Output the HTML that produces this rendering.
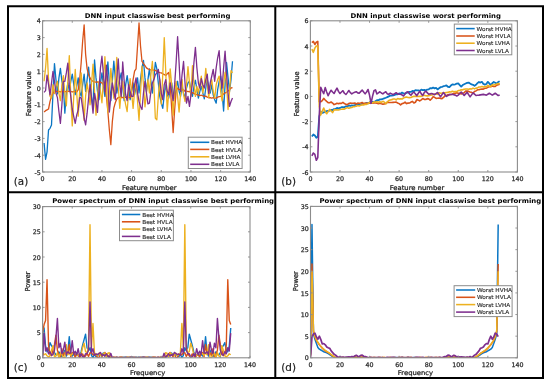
<!DOCTYPE html><html><head><meta charset="utf-8"><style>html,body{margin:0;padding:0;background:#fff;overflow:hidden}svg{display:block;filter:blur(0.3px)}</style></head><body><svg width="550" height="385" viewBox="0 0 550 385" font-family="DejaVu Sans, Liberation Sans, sans-serif">
<rect width="550" height="385" fill="#fff"/>
<clipPath id="cpa"><rect x="42.6" y="20.8" width="207.70000000000002" height="151.2"/></clipPath>
<g clip-path="url(#cpa)" fill="none" stroke-linejoin="round" stroke-linecap="butt">
<polyline points="44.08,142.94 45.57,159.40 47.05,151.84 48.53,130.00 50.02,128.32 51.50,124.96 52.98,93.04 54.47,63.64 55.95,79.60 57.44,93.88 58.92,77.92 60.40,68.34 61.89,81.28 63.37,86.32 64.85,113.20 66.34,93.04 67.82,82.96 69.30,90.69 70.79,81.28 72.27,74.06 73.76,84.64 75.24,94.72 76.72,86.32 78.21,77.92 79.69,91.36 81.17,96.40 82.66,84.64 84.14,74.06 85.62,91.36 87.11,79.60 88.59,67.17 90.07,84.64 91.56,98.08 93.04,107.82 94.53,59.94 96.01,77.92 97.49,91.36 98.98,99.59 100.46,82.96 101.94,72.88 103.43,86.32 104.91,96.40 106.39,77.92 107.88,61.96 109.36,82.96 110.84,100.60 112.33,81.28 113.81,61.12 115.30,77.92 116.78,93.04 118.26,84.64 119.75,79.60 121.23,72.88 122.71,86.32 124.20,100.60 125.68,84.64 127.16,75.57 128.65,86.32 130.13,99.76 131.61,91.36 133.10,82.96 134.58,94.72 136.06,86.32 137.55,77.92 139.03,93.04 140.52,79.60 142.00,67.84 143.48,60.45 144.97,77.92 146.45,91.36 147.93,79.60 149.42,68.85 150.90,81.28 152.38,93.04 153.87,77.92 155.35,62.46 156.84,68.85 158.32,82.96 159.80,96.40 161.29,103.12 162.77,108.33 164.25,94.72 165.74,84.64 167.22,94.72 168.70,98.08 170.19,89.68 171.67,82.96 173.15,93.04 174.64,98.08 176.12,88.00 177.60,81.28 179.09,91.36 180.57,96.40 182.06,86.32 183.54,93.04 185.02,98.08 186.51,88.00 187.99,82.96 189.47,81.28 190.96,91.36 192.44,96.40 193.92,86.32 195.41,80.27 196.89,89.68 198.38,98.08 199.86,91.36 201.34,86.32 202.83,93.04 204.31,98.92 205.79,88.00 207.28,79.26 208.76,86.32 210.24,93.04 211.73,84.64 213.21,94.72 214.69,99.76 216.18,103.12 217.66,89.68 219.15,81.28 220.63,76.07 222.11,93.04 223.60,111.02 225.08,84.64 226.56,62.46 228.05,77.92 229.53,91.36 231.01,79.60 232.50,61.29" stroke="#0a76c4" stroke-width="1.3"/>
<polyline points="44.08,112.02 45.57,110.68 47.05,109.84 48.53,109.00 50.02,101.44 51.50,96.40 52.98,93.04 54.47,91.36 55.95,91.02 57.44,91.70 58.92,91.36 60.40,92.03 61.89,91.19 63.37,91.53 64.85,91.36 66.34,91.86 67.82,91.02 69.30,91.70 70.79,91.36 72.27,92.03 73.76,91.36 75.24,91.70 76.72,92.03 78.21,89.68 79.69,79.60 81.17,62.80 82.66,40.96 84.14,24.83 85.62,54.40 87.11,68.85 88.59,74.56 90.07,77.92 91.56,80.44 93.04,81.28 94.53,81.78 96.01,82.12 97.49,81.95 98.98,82.29 100.46,82.12 101.94,82.96 103.43,84.64 104.91,88.00 106.39,96.40 107.88,111.52 109.36,130.00 110.84,144.62 112.33,121.60 113.81,108.16 115.30,102.78 116.78,98.92 118.26,97.58 119.75,97.24 121.23,97.74 122.71,97.41 124.20,97.58 125.68,97.24 127.16,97.74 128.65,97.41 130.13,97.58 131.61,91.36 133.10,79.60 134.58,71.20 136.06,68.85 137.55,46.00 139.03,22.98 140.52,46.00 142.00,61.46 143.48,63.64 144.97,65.66 146.45,67.84 147.93,68.85 149.42,69.52 150.90,69.86 152.38,69.86 153.87,70.19 155.35,70.36 156.84,71.20 158.32,72.04 159.80,72.54 161.29,72.88 162.77,73.72 164.25,74.56 165.74,75.57 167.22,73.72 168.70,72.54 170.19,84.64 171.67,108.16 173.15,132.52 174.64,109.84 176.12,91.36 177.60,88.00 179.09,89.68 180.57,89.34 182.06,90.02 183.54,89.68 185.02,91.36 186.51,91.02 187.99,91.70 189.47,91.36 190.96,93.04 192.44,92.70 193.92,93.38 195.41,94.38 196.89,94.72 198.38,95.06 199.86,95.56 201.34,95.22 202.83,95.90 204.31,96.40 205.79,96.06 207.28,97.24 208.76,97.74 210.24,97.58 211.73,98.08 213.21,97.74 214.69,98.08 216.18,98.08 217.66,97.24 219.15,96.74 220.63,96.40 222.11,95.56 223.60,93.88 225.08,93.04 226.56,92.20 228.05,91.02 229.53,89.68 231.01,88.00 232.50,87.66" stroke="#D95319" stroke-width="1.3"/>
<polyline points="44.08,81.28 45.57,67.84 47.05,48.35 48.53,79.60 50.02,96.40 51.50,98.08 52.98,84.64 54.47,93.54 55.95,86.32 57.44,81.28 58.92,93.04 60.40,100.60 61.89,84.64 63.37,75.57 64.85,93.04 66.34,105.81 67.82,81.28 69.30,55.58 70.79,96.40 72.27,125.97 73.76,96.40 75.24,69.52 76.72,93.04 78.21,116.22 79.69,91.36 81.17,72.88 82.66,96.40 84.14,120.42 85.62,96.40 87.11,82.96 88.59,93.04 90.07,104.80 91.56,82.96 93.04,64.14 94.53,91.36 96.01,115.22 97.49,96.40 98.98,81.28 100.46,91.36 101.94,102.78 103.43,79.60 104.91,56.75 106.39,84.64 107.88,112.53 109.36,91.36 110.84,68.34 112.33,84.64 113.81,98.08 115.30,79.60 116.78,57.42 118.26,86.32 119.75,108.33 121.23,91.36 122.71,81.28 124.20,96.40 125.68,104.80 127.16,111.52 128.65,91.36 130.13,78.59 131.61,93.04 133.10,108.33 134.58,91.36 136.06,81.28 137.55,101.44 139.03,120.42 140.52,93.04 142.00,66.16 143.48,84.64 144.97,106.82 146.45,93.04 147.93,79.60 149.42,93.04 150.90,74.56 152.38,61.46 153.87,84.64 155.35,118.24 156.84,119.75 158.32,96.40 159.80,79.60 161.29,104.30 162.77,74.56 164.25,37.60 165.74,71.20 167.22,111.52 168.70,93.04 170.19,68.85 171.67,84.64 173.15,115.22 174.64,93.04 176.12,81.28 177.60,96.40 179.09,112.02 180.57,93.04 182.06,79.60 183.54,94.72 185.02,101.44 186.51,84.64 187.99,66.66 189.47,82.96 190.96,96.40 192.44,65.66 193.92,82.96 195.41,96.40 196.89,86.32 198.38,93.04 199.86,82.96 201.34,76.24 202.83,93.04 204.31,84.64 205.79,68.34 207.28,84.64 208.76,97.58 210.24,86.32 211.73,79.60 213.21,91.36 214.69,98.08 216.18,84.64 217.66,79.60 219.15,76.07 220.63,91.36 222.11,100.94 223.60,84.64 225.08,72.04 226.56,84.64 228.05,109.50 229.53,91.36 231.01,70.53 232.50,72.88" stroke="#EDB120" stroke-width="1.3"/>
<polyline points="44.08,92.37 45.57,90.69 47.05,75.06 48.53,84.64 50.02,94.89 51.50,82.96 52.98,71.37 54.47,81.28 55.95,93.04 57.44,97.58 58.92,111.52 60.40,123.45 61.89,104.80 63.37,81.28 64.85,81.28 66.34,72.88 67.82,63.14 69.30,84.64 70.79,96.40 72.27,109.00 73.76,116.56 75.24,123.28 76.72,114.88 78.21,109.84 79.69,97.58 81.17,97.58 82.66,108.16 84.14,118.24 85.62,124.96 87.11,113.20 88.59,98.08 90.07,84.64 91.56,98.08 93.04,113.20 94.53,93.38 96.01,101.44 97.49,112.36 98.98,91.36 100.46,67.84 101.94,56.25 103.43,74.56 104.91,91.36 106.39,65.15 107.88,82.96 109.36,112.02 110.84,96.40 112.33,82.96 113.81,91.36 115.30,99.59 116.78,77.92 118.26,58.94 119.75,84.64 121.23,96.40 122.71,61.96 124.20,81.28 125.68,94.72 127.16,100.60 128.65,84.64 130.13,91.36 131.61,96.40 133.10,96.40 134.58,84.64 136.06,77.92 137.55,93.04 139.03,101.44 140.52,106.48 142.00,109.50 143.48,93.04 144.97,81.28 146.45,93.04 147.93,103.96 149.42,103.12 150.90,91.36 152.38,82.96 153.87,79.60 155.35,74.56 156.84,72.88 158.32,69.35 159.80,79.60 161.29,93.04 162.77,99.59 164.25,84.64 165.74,79.60 167.22,91.36 168.70,94.72 170.19,82.96 171.67,91.36 173.15,100.60 174.64,84.64 176.12,62.80 177.60,36.59 179.09,62.80 180.57,91.36 182.06,74.56 183.54,61.46 185.02,82.96 186.51,103.12 187.99,96.40 189.47,106.31 190.96,94.72 192.44,82.96 193.92,62.80 195.41,47.34 196.89,67.84 198.38,82.96 199.86,88.00 201.34,78.59 202.83,84.64 204.31,88.00 205.79,79.60 207.28,74.06 208.76,93.38 210.24,82.96 211.73,76.24 213.21,69.35 214.69,81.28 216.18,67.84 217.66,57.76 219.15,50.70 220.63,74.56 222.11,88.00 223.60,67.84 225.08,51.04 226.56,74.56 228.05,93.04 229.53,106.31 231.01,101.44 232.50,98.08" stroke="#7E2F8E" stroke-width="1.3"/>
</g>
<rect x="42.6" y="20.8" width="207.70" height="151.20" fill="none" stroke="#8c8c8c" stroke-width="1.1"/>
<path d="M42.60,172.0v-2.0M42.60,20.8v2.0M72.27,172.0v-2.0M72.27,20.8v2.0M101.94,172.0v-2.0M101.94,20.8v2.0M131.61,172.0v-2.0M131.61,20.8v2.0M161.29,172.0v-2.0M161.29,20.8v2.0M190.96,172.0v-2.0M190.96,20.8v2.0M220.63,172.0v-2.0M220.63,20.8v2.0M250.30,172.0v-2.0M250.30,20.8v2.0M42.6,172.00h2.0M250.3,172.00h-2.0M42.6,155.20h2.0M250.3,155.20h-2.0M42.6,138.40h2.0M250.3,138.40h-2.0M42.6,121.60h2.0M250.3,121.60h-2.0M42.6,104.80h2.0M250.3,104.80h-2.0M42.6,88.00h2.0M250.3,88.00h-2.0M42.6,71.20h2.0M250.3,71.20h-2.0M42.6,54.40h2.0M250.3,54.40h-2.0M42.6,37.60h2.0M250.3,37.60h-2.0M42.6,20.80h2.0M250.3,20.80h-2.0" stroke="#8c8c8c" stroke-width="0.9" fill="none"/>
<text transform="translate(42.60,180.90)" font-size="6.3" text-anchor="middle" font-weight="normal" fill="#2a2a2a" stroke="#2a2a2a" stroke-width="0.25">0</text>
<text transform="translate(72.27,180.90)" font-size="6.3" text-anchor="middle" font-weight="normal" fill="#2a2a2a" stroke="#2a2a2a" stroke-width="0.25">20</text>
<text transform="translate(101.94,180.90)" font-size="6.3" text-anchor="middle" font-weight="normal" fill="#2a2a2a" stroke="#2a2a2a" stroke-width="0.25">40</text>
<text transform="translate(131.61,180.90)" font-size="6.3" text-anchor="middle" font-weight="normal" fill="#2a2a2a" stroke="#2a2a2a" stroke-width="0.25">60</text>
<text transform="translate(161.29,180.90)" font-size="6.3" text-anchor="middle" font-weight="normal" fill="#2a2a2a" stroke="#2a2a2a" stroke-width="0.25">80</text>
<text transform="translate(190.96,180.90)" font-size="6.3" text-anchor="middle" font-weight="normal" fill="#2a2a2a" stroke="#2a2a2a" stroke-width="0.25">100</text>
<text transform="translate(220.63,180.90)" font-size="6.3" text-anchor="middle" font-weight="normal" fill="#2a2a2a" stroke="#2a2a2a" stroke-width="0.25">120</text>
<text transform="translate(250.30,180.90)" font-size="6.3" text-anchor="middle" font-weight="normal" fill="#2a2a2a" stroke="#2a2a2a" stroke-width="0.25">140</text>
<text transform="translate(40.80,174.60)" font-size="6.3" text-anchor="end" font-weight="normal" fill="#2a2a2a" stroke="#2a2a2a" stroke-width="0.25">-5</text>
<text transform="translate(40.80,157.80)" font-size="6.3" text-anchor="end" font-weight="normal" fill="#2a2a2a" stroke="#2a2a2a" stroke-width="0.25">-4</text>
<text transform="translate(40.80,141.00)" font-size="6.3" text-anchor="end" font-weight="normal" fill="#2a2a2a" stroke="#2a2a2a" stroke-width="0.25">-3</text>
<text transform="translate(40.80,124.20)" font-size="6.3" text-anchor="end" font-weight="normal" fill="#2a2a2a" stroke="#2a2a2a" stroke-width="0.25">-2</text>
<text transform="translate(40.80,107.40)" font-size="6.3" text-anchor="end" font-weight="normal" fill="#2a2a2a" stroke="#2a2a2a" stroke-width="0.25">-1</text>
<text transform="translate(40.80,90.60)" font-size="6.3" text-anchor="end" font-weight="normal" fill="#2a2a2a" stroke="#2a2a2a" stroke-width="0.25">0</text>
<text transform="translate(40.80,73.80)" font-size="6.3" text-anchor="end" font-weight="normal" fill="#2a2a2a" stroke="#2a2a2a" stroke-width="0.25">1</text>
<text transform="translate(40.80,57.00)" font-size="6.3" text-anchor="end" font-weight="normal" fill="#2a2a2a" stroke="#2a2a2a" stroke-width="0.25">2</text>
<text transform="translate(40.80,40.20)" font-size="6.3" text-anchor="end" font-weight="normal" fill="#2a2a2a" stroke="#2a2a2a" stroke-width="0.25">3</text>
<text transform="translate(40.80,23.40)" font-size="6.3" text-anchor="end" font-weight="normal" fill="#2a2a2a" stroke="#2a2a2a" stroke-width="0.25">4</text>
<clipPath id="cpb"><rect x="310.4" y="20.8" width="207.0" height="151.2"/></clipPath>
<g clip-path="url(#cpb)" fill="none" stroke-linejoin="round" stroke-linecap="butt">
<polyline points="311.88,136.59 313.36,134.45 314.84,135.46 316.31,137.73 317.79,136.72 319.27,116.56 320.75,111.61 322.23,112.90 323.71,112.32 325.19,111.71 326.66,111.18 328.14,110.78 329.62,110.58 331.10,110.00 332.58,110.08 334.06,109.07 335.54,109.02 337.01,107.90 338.49,108.27 339.97,108.01 341.45,107.19 342.93,107.02 344.41,107.27 345.89,106.29 347.36,106.48 348.84,105.37 350.32,105.91 351.80,105.39 353.28,105.67 354.76,105.08 356.24,104.43 357.71,104.26 359.19,104.70 360.67,104.72 362.15,103.68 363.63,103.96 365.11,103.74 366.59,102.93 368.06,103.42 369.54,102.38 371.02,101.90 372.50,101.93 373.98,101.91 375.46,101.26 376.94,100.23 378.41,100.26 379.89,99.38 381.37,99.36 382.85,98.86 384.33,98.28 385.81,97.75 387.29,97.13 388.76,96.37 390.24,95.68 391.72,95.67 393.20,95.45 394.68,94.81 396.16,94.38 397.64,94.27 399.11,93.42 400.59,93.64 402.07,92.57 403.55,93.41 405.03,93.66 406.51,92.69 407.99,92.56 409.46,91.95 410.94,91.95 412.42,91.01 413.90,91.24 415.38,90.13 416.86,90.39 418.34,90.41 419.81,90.85 421.29,89.60 422.77,90.09 424.25,89.89 425.73,90.42 427.21,89.56 428.69,89.44 430.16,88.14 431.64,88.34 433.12,87.55 434.60,88.34 436.08,87.96 437.56,89.43 439.04,88.33 440.51,87.17 441.99,86.87 443.47,86.24 444.95,85.89 446.43,85.46 447.91,86.76 449.39,87.01 450.86,85.51 452.34,84.33 453.82,84.68 455.30,84.30 456.78,83.62 458.26,83.49 459.74,85.04 461.21,86.64 462.69,85.03 464.17,84.20 465.65,83.50 467.13,82.83 468.61,82.54 470.09,83.57 471.56,84.46 473.04,84.84 474.52,85.85 476.00,84.76 477.48,83.12 478.96,82.03 480.44,82.56 481.91,81.81 483.39,83.93 484.87,84.55 486.35,84.00 487.83,81.86 489.31,83.37 490.79,85.17 492.26,83.23 493.74,81.95 495.22,82.72 496.70,83.71 498.18,82.04 499.66,81.17" stroke="#0a76c4" stroke-width="1.8"/>
<polyline points="311.88,42.60 313.36,41.46 314.84,44.49 316.31,42.22 317.79,41.46 319.27,101.82 320.75,101.77 322.23,100.72 323.71,98.38 325.19,100.04 326.66,101.44 328.14,102.71 329.62,102.73 331.10,102.00 332.58,103.07 334.06,104.61 335.54,104.04 337.01,103.20 338.49,103.65 339.97,103.30 341.45,103.33 342.93,102.43 344.41,103.55 345.89,104.41 347.36,104.67 348.84,103.45 350.32,103.11 351.80,103.26 353.28,103.24 354.76,103.04 356.24,104.02 357.71,103.10 359.19,103.19 360.67,103.01 362.15,102.47 363.63,103.58 365.11,103.17 366.59,103.33 368.06,103.30 369.54,103.09 371.02,103.10 372.50,103.30 373.98,102.96 375.46,102.89 376.94,103.19 378.41,103.67 379.89,103.28 381.37,103.82 382.85,104.10 384.33,103.86 385.81,103.55 387.29,102.32 388.76,102.47 390.24,102.45 391.72,102.52 393.20,102.34 394.68,102.32 396.16,102.10 397.64,102.94 399.11,103.65 400.59,104.85 402.07,103.65 403.55,103.28 405.03,102.19 406.51,103.59 407.99,103.12 409.46,103.07 410.94,102.10 412.42,101.42 413.90,102.97 415.38,102.25 416.86,99.51 418.34,100.14 419.81,100.92 421.29,99.94 422.77,98.51 424.25,99.34 425.73,99.52 427.21,98.59 428.69,98.84 430.16,100.12 431.64,98.74 433.12,96.84 434.60,97.28 436.08,98.33 437.56,98.32 439.04,98.07 440.51,98.38 441.99,98.66 443.47,97.44 444.95,95.84 446.43,95.53 447.91,94.79 449.39,94.60 450.86,94.54 452.34,94.21 453.82,93.37 455.30,93.29 456.78,92.70 458.26,93.36 459.74,93.38 461.21,94.00 462.69,93.32 464.17,92.68 465.65,90.99 467.13,91.08 468.61,91.40 470.09,92.01 471.56,92.35 473.04,93.06 474.52,91.55 476.00,90.87 477.48,89.81 478.96,89.71 480.44,89.21 481.91,88.93 483.39,89.13 484.87,88.27 486.35,88.16 487.83,87.23 489.31,86.81 490.79,86.65 492.26,86.00 493.74,86.52 495.22,86.50 496.70,85.17 498.18,84.71 499.66,84.22" stroke="#D95319" stroke-width="1.6"/>
<polyline points="311.88,49.15 313.36,52.30 314.84,48.14 316.31,46.00 317.79,46.00 319.27,106.48 320.75,115.08 322.23,111.32 323.71,108.08 325.19,111.63 326.66,113.76 328.14,111.62 329.62,109.38 331.10,110.93 332.58,112.59 334.06,109.90 335.54,109.81 337.01,109.89 338.49,110.03 339.97,109.47 341.45,109.32 342.93,109.11 344.41,109.09 345.89,108.22 347.36,107.62 348.84,108.31 350.32,107.75 351.80,107.51 353.28,106.61 354.76,106.58 356.24,106.22 357.71,105.54 359.19,105.92 360.67,105.33 362.15,104.80 363.63,105.01 365.11,104.25 366.59,104.36 368.06,103.59 369.54,102.38 371.02,102.47 372.50,102.86 373.98,101.79 375.46,102.34 376.94,101.61 378.41,102.45 379.89,101.72 381.37,102.42 382.85,101.32 384.33,102.12 385.81,103.78 387.29,101.76 388.76,100.58 390.24,99.94 391.72,99.66 393.20,99.05 394.68,98.93 396.16,99.88 397.64,98.47 399.11,99.10 400.59,98.70 402.07,99.03 403.55,98.03 405.03,97.36 406.51,97.05 407.99,97.49 409.46,97.66 410.94,97.47 412.42,96.73 413.90,96.39 415.38,96.42 416.86,96.48 418.34,96.37 419.81,96.27 421.29,96.34 422.77,95.72 424.25,95.33 425.73,95.73 427.21,95.84 428.69,95.61 430.16,95.17 431.64,95.02 433.12,94.65 434.60,93.94 436.08,93.79 437.56,94.33 439.04,92.73 440.51,93.19 441.99,93.06 443.47,92.77 444.95,92.87 446.43,92.54 447.91,92.41 449.39,91.78 450.86,91.97 452.34,91.25 453.82,91.79 455.30,91.45 456.78,91.66 458.26,90.53 459.74,90.51 461.21,89.69 462.69,89.83 464.17,89.17 465.65,88.97 467.13,89.00 468.61,89.26 470.09,88.90 471.56,88.94 473.04,88.15 474.52,88.89 476.00,88.09 477.48,87.93 478.96,86.98 480.44,86.95 481.91,86.52 483.39,87.11 484.87,86.45 486.35,86.92 487.83,85.36 489.31,86.15 490.79,86.39 492.26,84.81 493.74,84.96 495.22,84.43 496.70,84.12 498.18,83.44 499.66,84.07" stroke="#EDB120" stroke-width="1.6"/>
<polyline points="311.88,155.87 313.36,152.97 314.84,154.36 316.31,160.28 317.79,157.51 319.27,115.30 320.75,87.33 322.23,90.73 323.71,93.75 325.19,87.58 326.66,91.99 328.14,95.64 329.62,92.62 331.10,90.23 332.58,91.99 334.06,93.50 335.54,90.73 337.01,88.08 338.49,91.36 339.97,93.50 341.45,91.99 342.93,90.73 344.41,93.25 345.89,94.51 347.36,92.62 348.84,90.48 350.32,92.62 351.80,93.88 353.28,92.87 354.76,92.24 356.24,91.74 357.71,92.87 359.19,93.25 360.67,91.61 362.15,90.10 363.63,91.99 365.11,93.88 366.59,91.99 368.06,89.47 369.54,95.14 371.02,103.33 372.50,96.40 373.98,90.73 375.46,89.85 376.94,93.88 378.41,92.87 379.89,91.74 381.37,93.00 382.85,93.88 384.33,92.62 385.81,91.74 387.29,93.88 388.76,94.26 390.24,93.12 391.72,93.88 393.20,94.64 394.68,93.63 396.16,92.75 397.64,93.88 399.11,94.26 400.59,94.26 402.07,94.89 403.55,96.02 405.03,93.88 406.51,92.24 407.99,91.74 409.46,93.88 410.94,95.27 412.42,93.25 413.90,91.99 415.38,93.88 416.86,95.64 418.34,93.25 419.81,91.23 421.29,93.88 422.77,95.39 424.25,92.62 425.73,90.98 427.21,92.62 428.69,94.26 430.16,93.88 431.64,93.50 433.12,94.07 434.60,94.64 436.08,93.57 437.56,92.49 439.04,94.64 440.51,96.78 441.99,94.64 443.47,92.49 444.95,94.45 446.43,96.40 447.91,95.52 449.39,94.64 450.86,94.45 452.34,94.26 453.82,94.70 455.30,95.14 456.78,96.02 458.26,95.14 459.74,93.57 461.21,91.99 462.69,93.75 464.17,95.52 465.65,93.88 467.13,92.24 468.61,94.57 470.09,96.90 471.56,94.89 473.04,92.87 474.52,94.20 476.00,95.52 477.48,95.33 478.96,95.14 480.44,94.89 481.91,94.64 483.39,94.38 484.87,94.76 486.35,95.14 487.83,94.20 489.31,93.25 490.79,94.20 492.26,95.14 493.74,94.20 495.22,93.25 496.70,94.38 498.18,95.52 499.66,94.89" stroke="#7E2F8E" stroke-width="1.6"/>
</g>
<rect x="310.4" y="20.8" width="207.00" height="151.20" fill="none" stroke="#8c8c8c" stroke-width="1.1"/>
<path d="M310.40,172.0v-2.0M310.40,20.8v2.0M339.97,172.0v-2.0M339.97,20.8v2.0M369.54,172.0v-2.0M369.54,20.8v2.0M399.11,172.0v-2.0M399.11,20.8v2.0M428.69,172.0v-2.0M428.69,20.8v2.0M458.26,172.0v-2.0M458.26,20.8v2.0M487.83,172.0v-2.0M487.83,20.8v2.0M517.40,172.0v-2.0M517.40,20.8v2.0M310.4,172.00h2.0M517.4,172.00h-2.0M310.4,146.80h2.0M517.4,146.80h-2.0M310.4,121.60h2.0M517.4,121.60h-2.0M310.4,96.40h2.0M517.4,96.40h-2.0M310.4,71.20h2.0M517.4,71.20h-2.0M310.4,46.00h2.0M517.4,46.00h-2.0M310.4,20.80h2.0M517.4,20.80h-2.0" stroke="#8c8c8c" stroke-width="0.9" fill="none"/>
<text transform="translate(310.40,180.90)" font-size="6.3" text-anchor="middle" font-weight="normal" fill="#2a2a2a" stroke="#2a2a2a" stroke-width="0.25">0</text>
<text transform="translate(339.97,180.90)" font-size="6.3" text-anchor="middle" font-weight="normal" fill="#2a2a2a" stroke="#2a2a2a" stroke-width="0.25">20</text>
<text transform="translate(369.54,180.90)" font-size="6.3" text-anchor="middle" font-weight="normal" fill="#2a2a2a" stroke="#2a2a2a" stroke-width="0.25">40</text>
<text transform="translate(399.11,180.90)" font-size="6.3" text-anchor="middle" font-weight="normal" fill="#2a2a2a" stroke="#2a2a2a" stroke-width="0.25">60</text>
<text transform="translate(428.69,180.90)" font-size="6.3" text-anchor="middle" font-weight="normal" fill="#2a2a2a" stroke="#2a2a2a" stroke-width="0.25">80</text>
<text transform="translate(458.26,180.90)" font-size="6.3" text-anchor="middle" font-weight="normal" fill="#2a2a2a" stroke="#2a2a2a" stroke-width="0.25">100</text>
<text transform="translate(487.83,180.90)" font-size="6.3" text-anchor="middle" font-weight="normal" fill="#2a2a2a" stroke="#2a2a2a" stroke-width="0.25">120</text>
<text transform="translate(517.40,180.90)" font-size="6.3" text-anchor="middle" font-weight="normal" fill="#2a2a2a" stroke="#2a2a2a" stroke-width="0.25">140</text>
<text transform="translate(308.60,174.60)" font-size="6.3" text-anchor="end" font-weight="normal" fill="#2a2a2a" stroke="#2a2a2a" stroke-width="0.25">-6</text>
<text transform="translate(308.60,149.40)" font-size="6.3" text-anchor="end" font-weight="normal" fill="#2a2a2a" stroke="#2a2a2a" stroke-width="0.25">-4</text>
<text transform="translate(308.60,124.20)" font-size="6.3" text-anchor="end" font-weight="normal" fill="#2a2a2a" stroke="#2a2a2a" stroke-width="0.25">-2</text>
<text transform="translate(308.60,99.00)" font-size="6.3" text-anchor="end" font-weight="normal" fill="#2a2a2a" stroke="#2a2a2a" stroke-width="0.25">0</text>
<text transform="translate(308.60,73.80)" font-size="6.3" text-anchor="end" font-weight="normal" fill="#2a2a2a" stroke="#2a2a2a" stroke-width="0.25">2</text>
<text transform="translate(308.60,48.60)" font-size="6.3" text-anchor="end" font-weight="normal" fill="#2a2a2a" stroke="#2a2a2a" stroke-width="0.25">4</text>
<text transform="translate(308.60,23.40)" font-size="6.3" text-anchor="end" font-weight="normal" fill="#2a2a2a" stroke="#2a2a2a" stroke-width="0.25">6</text>
<clipPath id="cpc"><rect x="42.6" y="206.6" width="207.4" height="151.20000000000002"/></clipPath>
<g clip-path="url(#cpc)" fill="none" stroke-linejoin="round" stroke-linecap="butt">
<polyline points="42.60,355.78 44.08,328.06 45.56,346.21 47.04,351.75 48.53,350.24 50.01,342.68 51.49,345.70 52.97,347.72 54.45,352.76 55.93,354.78 57.41,354.58 58.90,351.75 60.38,354.63 61.86,356.59 63.34,353.73 64.82,350.24 66.30,356.10 67.78,352.76 69.27,336.63 70.75,352.76 72.23,355.97 73.71,354.18 75.19,356.03 76.67,353.03 78.15,355.49 79.64,355.92 81.12,351.75 82.60,345.20 84.08,339.66 85.56,334.11 87.04,347.72 88.52,350.74 90.01,347.72 91.49,355.28 92.97,357.70 94.45,353.98 95.93,356.72 97.41,355.50 98.89,354.40 100.38,355.45 101.86,354.27 103.34,353.00 104.82,354.78 106.30,355.81 107.78,355.99 109.26,357.28 110.75,357.65 112.23,357.73 113.71,357.45 115.19,357.73 116.67,357.50 118.15,357.71 119.63,357.32 121.12,357.78 122.60,357.33 124.08,357.23 125.56,357.23 127.04,357.52 128.52,357.31 130.00,357.70 131.49,357.22 132.97,357.21 134.45,357.36 135.93,357.21 137.41,357.42 138.89,357.21 140.37,357.36 141.86,357.21 143.34,357.22 144.82,357.70 146.30,357.31 147.78,357.52 149.26,357.23 150.74,357.23 152.23,357.33 153.71,357.78 155.19,357.32 156.67,357.71 158.15,357.50 159.63,357.73 161.11,357.45 162.60,357.73 164.08,357.65 165.56,357.28 167.04,355.99 168.52,355.81 170.00,354.78 171.48,353.00 172.97,354.27 174.45,355.45 175.93,354.40 177.41,355.50 178.89,356.72 180.37,353.98 181.85,357.70 183.34,355.28 184.82,347.72 186.30,350.74 187.78,347.72 189.26,334.11 190.74,339.66 192.22,345.20 193.71,351.75 195.19,355.92 196.67,355.49 198.15,353.03 199.63,356.03 201.11,354.18 202.59,355.97 204.08,352.76 205.56,336.63 207.04,352.76 208.52,356.10 210.00,350.24 211.48,353.73 212.96,356.59 214.45,354.63 215.93,351.75 217.41,354.58 218.89,354.78 220.37,352.76 221.85,347.72 223.33,345.70 224.82,342.68 226.30,350.24 227.78,351.75 229.26,346.21 230.74,328.06" stroke="#0a76c4" stroke-width="1.4"/>
<polyline points="42.60,332.60 44.08,324.54 45.56,320.50 47.04,279.68 48.53,345.20 50.01,354.78 51.49,355.78 52.97,350.24 54.45,344.70 55.93,335.12 57.41,350.24 58.90,354.74 60.38,356.78 61.86,348.73 63.34,355.67 64.82,352.92 66.30,351.75 67.78,353.58 69.27,344.70 70.75,356.77 72.23,352.44 73.71,352.59 75.19,357.55 76.67,353.90 78.15,355.51 79.64,357.33 81.12,355.87 82.60,353.90 84.08,357.15 85.56,355.85 87.04,353.64 88.52,356.39 90.01,352.76 91.49,352.51 92.97,354.78 94.45,354.34 95.93,353.98 97.41,357.57 98.89,357.38 100.38,354.09 101.86,356.75 103.34,354.63 104.82,352.38 106.30,354.22 107.78,355.12 109.26,357.19 110.75,357.04 112.23,357.65 113.71,357.22 115.19,357.34 116.67,357.70 118.15,357.77 119.63,357.21 121.12,357.22 122.60,357.48 124.08,357.63 125.56,357.48 127.04,357.26 128.52,357.65 130.00,357.33 131.49,357.50 132.97,357.47 134.45,357.23 135.93,357.79 137.41,357.62 138.89,357.79 140.37,357.23 141.86,357.47 143.34,357.50 144.82,357.33 146.30,357.65 147.78,357.26 149.26,357.48 150.74,357.63 152.23,357.48 153.71,357.22 155.19,357.21 156.67,357.77 158.15,357.70 159.63,357.34 161.11,357.22 162.60,357.65 164.08,357.04 165.56,357.19 167.04,355.12 168.52,354.22 170.00,352.38 171.48,354.63 172.97,356.75 174.45,354.09 175.93,357.38 177.41,357.57 178.89,353.98 180.37,354.34 181.85,354.78 183.34,352.51 184.82,352.76 186.30,356.39 187.78,353.64 189.26,355.85 190.74,357.15 192.22,353.90 193.71,355.87 195.19,357.33 196.67,355.51 198.15,353.90 199.63,357.55 201.11,352.59 202.59,352.44 204.08,356.77 205.56,344.70 207.04,353.58 208.52,351.75 210.00,352.92 211.48,355.67 212.96,348.73 214.45,356.78 215.93,354.74 217.41,350.24 218.89,335.12 220.37,344.70 221.85,350.24 223.33,355.78 224.82,354.78 226.30,345.20 227.78,279.68 229.26,320.50 230.74,324.54" stroke="#D95319" stroke-width="1.4"/>
<polyline points="42.60,352.76 44.08,354.78 45.56,353.77 47.04,355.78 48.53,356.85 50.01,355.84 51.49,350.24 52.97,345.70 54.45,356.73 55.93,356.08 57.41,352.84 58.90,357.70 60.38,353.43 61.86,353.92 63.34,357.64 64.82,357.61 66.30,344.70 67.78,354.71 69.27,352.82 70.75,355.47 72.23,353.76 73.71,353.18 75.19,352.31 76.67,354.24 78.15,355.73 79.64,353.63 81.12,354.49 82.60,347.72 84.08,343.18 85.56,351.75 87.04,352.76 88.52,346.71 90.01,224.74 91.49,347.72 92.97,323.53 94.45,352.76 95.93,354.78 97.41,355.18 98.89,353.17 100.38,355.46 101.86,354.23 103.34,353.85 104.82,352.93 106.30,357.05 107.78,353.22 109.26,352.74 110.75,357.39 112.23,357.67 113.71,357.48 115.19,357.54 116.67,357.26 118.15,357.76 119.63,357.79 121.12,357.28 122.60,357.38 124.08,357.51 125.56,357.62 127.04,357.48 128.52,357.26 130.00,357.35 131.49,357.51 132.97,357.71 134.45,357.59 135.93,357.52 137.41,357.35 138.89,357.52 140.37,357.59 141.86,357.71 143.34,357.51 144.82,357.35 146.30,357.26 147.78,357.48 149.26,357.62 150.74,357.51 152.23,357.38 153.71,357.28 155.19,357.79 156.67,357.76 158.15,357.26 159.63,357.54 161.11,357.48 162.60,357.67 164.08,357.39 165.56,352.74 167.04,353.22 168.52,357.05 170.00,352.93 171.48,353.85 172.97,354.23 174.45,355.46 175.93,353.17 177.41,355.18 178.89,354.78 180.37,352.76 181.85,323.53 183.34,347.72 184.82,224.74 186.30,346.71 187.78,352.76 189.26,351.75 190.74,343.18 192.22,347.72 193.71,354.49 195.19,353.63 196.67,355.73 198.15,354.24 199.63,352.31 201.11,353.18 202.59,353.76 204.08,355.47 205.56,352.82 207.04,354.71 208.52,344.70 210.00,357.61 211.48,357.64 212.96,353.92 214.45,353.43 215.93,357.70 217.41,352.84 218.89,356.08 220.37,356.73 221.85,345.70 223.33,350.24 224.82,355.84 226.30,356.85 227.78,355.78 229.26,353.77 230.74,354.78" stroke="#EDB120" stroke-width="1.4"/>
<polyline points="42.60,357.80 44.08,333.10 45.56,351.00 47.04,347.72 48.53,353.77 50.01,351.75 51.49,355.23 52.97,354.64 54.45,350.24 55.93,337.64 57.41,318.49 58.90,347.72 60.38,343.18 61.86,353.77 63.34,350.24 64.82,342.18 66.30,354.78 67.78,351.75 69.27,353.33 70.75,352.76 72.23,340.66 73.71,354.27 75.19,351.25 76.67,354.78 78.15,348.73 79.64,356.29 81.12,353.63 82.60,356.74 84.08,356.96 85.56,353.67 87.04,353.77 88.52,350.24 90.01,301.86 91.49,352.76 92.97,348.73 94.45,355.28 95.93,353.99 97.41,354.39 98.89,353.77 100.38,352.37 101.86,355.28 103.34,354.77 104.82,356.14 106.30,353.77 107.78,355.97 109.26,357.62 110.75,353.33 112.23,357.55 113.71,357.49 115.19,357.71 116.67,357.24 118.15,357.55 119.63,357.77 121.12,357.36 122.60,357.34 124.08,357.75 125.56,357.39 127.04,357.70 128.52,357.67 130.00,357.24 131.49,357.23 132.97,357.76 134.45,357.74 135.93,357.56 137.41,357.70 138.89,357.56 140.37,357.74 141.86,357.76 143.34,357.23 144.82,357.24 146.30,357.67 147.78,357.70 149.26,357.39 150.74,357.75 152.23,357.34 153.71,357.36 155.19,357.77 156.67,357.55 158.15,357.24 159.63,357.71 161.11,357.49 162.60,357.55 164.08,353.33 165.56,357.62 167.04,355.97 168.52,353.77 170.00,356.14 171.48,354.77 172.97,355.28 174.45,352.37 175.93,353.77 177.41,354.39 178.89,353.99 180.37,355.28 181.85,348.73 183.34,352.76 184.82,301.86 186.30,350.24 187.78,353.77 189.26,353.67 190.74,356.96 192.22,356.74 193.71,353.63 195.19,356.29 196.67,348.73 198.15,354.78 199.63,351.25 201.11,354.27 202.59,340.66 204.08,352.76 205.56,353.33 207.04,351.75 208.52,354.78 210.00,342.18 211.48,350.24 212.96,353.77 214.45,343.18 215.93,347.72 217.41,318.49 218.89,337.64 220.37,350.24 221.85,354.64 223.33,355.23 224.82,351.75 226.30,353.77 227.78,347.72 229.26,351.00 230.74,333.10" stroke="#7E2F8E" stroke-width="1.4"/>
</g>
<rect x="42.6" y="206.6" width="207.40" height="151.20" fill="none" stroke="#8c8c8c" stroke-width="1.1"/>
<path d="M42.60,357.8v-2.0M42.60,206.6v2.0M72.23,357.8v-2.0M72.23,206.6v2.0M101.86,357.8v-2.0M101.86,206.6v2.0M131.49,357.8v-2.0M131.49,206.6v2.0M161.11,357.8v-2.0M161.11,206.6v2.0M190.74,357.8v-2.0M190.74,206.6v2.0M220.37,357.8v-2.0M220.37,206.6v2.0M250.00,357.8v-2.0M250.00,206.6v2.0M42.6,357.80h2.0M250.0,357.80h-2.0M42.6,332.60h2.0M250.0,332.60h-2.0M42.6,307.40h2.0M250.0,307.40h-2.0M42.6,282.20h2.0M250.0,282.20h-2.0M42.6,257.00h2.0M250.0,257.00h-2.0M42.6,231.80h2.0M250.0,231.80h-2.0M42.6,206.60h2.0M250.0,206.60h-2.0" stroke="#8c8c8c" stroke-width="0.9" fill="none"/>
<text transform="translate(42.60,366.70)" font-size="6.3" text-anchor="middle" font-weight="normal" fill="#2a2a2a" stroke="#2a2a2a" stroke-width="0.25">0</text>
<text transform="translate(72.23,366.70)" font-size="6.3" text-anchor="middle" font-weight="normal" fill="#2a2a2a" stroke="#2a2a2a" stroke-width="0.25">20</text>
<text transform="translate(101.86,366.70)" font-size="6.3" text-anchor="middle" font-weight="normal" fill="#2a2a2a" stroke="#2a2a2a" stroke-width="0.25">40</text>
<text transform="translate(131.49,366.70)" font-size="6.3" text-anchor="middle" font-weight="normal" fill="#2a2a2a" stroke="#2a2a2a" stroke-width="0.25">60</text>
<text transform="translate(161.11,366.70)" font-size="6.3" text-anchor="middle" font-weight="normal" fill="#2a2a2a" stroke="#2a2a2a" stroke-width="0.25">80</text>
<text transform="translate(190.74,366.70)" font-size="6.3" text-anchor="middle" font-weight="normal" fill="#2a2a2a" stroke="#2a2a2a" stroke-width="0.25">100</text>
<text transform="translate(220.37,366.70)" font-size="6.3" text-anchor="middle" font-weight="normal" fill="#2a2a2a" stroke="#2a2a2a" stroke-width="0.25">120</text>
<text transform="translate(250.00,366.70)" font-size="6.3" text-anchor="middle" font-weight="normal" fill="#2a2a2a" stroke="#2a2a2a" stroke-width="0.25">140</text>
<text transform="translate(40.80,360.40)" font-size="6.3" text-anchor="end" font-weight="normal" fill="#2a2a2a" stroke="#2a2a2a" stroke-width="0.25">0</text>
<text transform="translate(40.80,335.20)" font-size="6.3" text-anchor="end" font-weight="normal" fill="#2a2a2a" stroke="#2a2a2a" stroke-width="0.25">5</text>
<text transform="translate(40.80,310.00)" font-size="6.3" text-anchor="end" font-weight="normal" fill="#2a2a2a" stroke="#2a2a2a" stroke-width="0.25">10</text>
<text transform="translate(40.80,284.80)" font-size="6.3" text-anchor="end" font-weight="normal" fill="#2a2a2a" stroke="#2a2a2a" stroke-width="0.25">15</text>
<text transform="translate(40.80,259.60)" font-size="6.3" text-anchor="end" font-weight="normal" fill="#2a2a2a" stroke="#2a2a2a" stroke-width="0.25">20</text>
<text transform="translate(40.80,234.40)" font-size="6.3" text-anchor="end" font-weight="normal" fill="#2a2a2a" stroke="#2a2a2a" stroke-width="0.25">25</text>
<text transform="translate(40.80,209.20)" font-size="6.3" text-anchor="end" font-weight="normal" fill="#2a2a2a" stroke="#2a2a2a" stroke-width="0.25">30</text>
<clipPath id="cpd"><rect x="310.5" y="206.4" width="206.89999999999998" height="151.4"/></clipPath>
<g clip-path="url(#cpd)" fill="none" stroke-linejoin="round" stroke-linecap="butt">
<polyline points="310.50,354.34 311.98,224.57 313.46,334.01 314.93,339.20 316.41,343.53 317.89,347.42 319.37,349.15 320.85,350.01 322.32,350.88 323.80,351.74 325.28,352.39 326.76,352.83 328.23,353.69 329.71,354.56 331.19,355.64 332.67,356.50 334.15,357.15 335.62,357.58 337.10,357.76 338.58,357.68 340.06,357.64 341.53,357.78 343.01,357.64 344.49,357.69 345.97,357.61 347.45,357.62 348.92,357.72 350.40,357.66 351.88,357.67 353.36,357.69 354.84,357.66 356.31,357.65 357.79,357.75 359.27,357.73 360.75,357.68 362.23,357.72 363.70,357.65 365.18,357.75 366.66,357.75 368.14,357.70 369.61,357.79 371.09,357.64 372.57,357.75 374.05,357.80 375.53,357.65 377.00,357.72 378.48,357.69 379.96,357.76 381.44,357.67 382.91,357.69 384.39,357.79 385.87,357.65 387.35,357.78 388.83,357.66 390.30,357.67 391.78,357.70 393.26,357.75 394.74,357.60 396.22,357.58 397.69,357.66 399.17,357.63 400.65,357.73 402.13,357.60 403.61,357.71 405.08,357.67 406.56,357.71 408.04,357.60 409.52,357.73 410.99,357.63 412.47,357.66 413.95,357.58 415.43,357.60 416.91,357.75 418.38,357.70 419.86,357.67 421.34,357.66 422.82,357.78 424.29,357.65 425.77,357.79 427.25,357.69 428.73,357.67 430.21,357.76 431.68,357.69 433.16,357.72 434.64,357.65 436.12,357.80 437.60,357.75 439.07,357.64 440.55,357.79 442.03,357.70 443.51,357.75 444.99,357.75 446.46,357.65 447.94,357.72 449.42,357.68 450.90,357.73 452.37,357.75 453.85,357.65 455.33,357.66 456.81,357.69 458.29,357.67 459.76,357.66 461.24,357.72 462.72,357.62 464.20,357.61 465.67,357.69 467.15,357.64 468.63,357.78 470.11,357.64 471.59,357.68 473.06,357.76 474.54,357.58 476.02,357.15 477.50,356.50 478.98,355.64 480.45,354.56 481.93,353.69 483.41,352.83 484.89,352.39 486.37,351.74 487.84,350.88 489.32,350.01 490.80,349.15 492.28,347.42 493.75,343.53 495.23,339.20 496.71,334.01 498.19,224.57" stroke="#0a76c4" stroke-width="1.5"/>
<polyline points="310.50,355.20 311.98,263.93 313.46,331.85 314.93,337.04 316.41,340.50 317.89,342.66 319.37,344.82 320.85,346.55 322.32,348.28 323.80,349.58 325.28,350.88 326.76,351.74 328.23,352.61 329.71,353.47 331.19,354.77 332.67,355.85 334.15,356.93 335.62,357.37 337.10,357.66 338.58,357.68 340.06,357.55 341.53,357.64 343.01,357.59 344.49,357.67 345.97,357.53 347.45,357.61 348.92,357.46 350.40,357.68 351.88,357.64 353.36,357.65 354.84,356.72 356.31,357.54 357.79,357.69 359.27,356.50 360.75,357.72 362.23,356.93 363.70,357.75 365.18,357.75 366.66,357.78 368.14,357.71 369.61,357.74 371.09,357.56 372.57,357.77 374.05,357.54 375.53,357.75 377.00,357.68 378.48,357.77 379.96,357.50 381.44,357.79 382.91,357.56 384.39,357.58 385.87,357.78 387.35,357.74 388.83,357.47 390.30,357.57 391.78,357.68 393.26,357.54 394.74,357.47 396.22,357.65 397.69,357.77 399.17,357.55 400.65,357.50 402.13,357.51 403.61,357.80 405.08,357.64 406.56,357.80 408.04,357.51 409.52,357.50 410.99,357.55 412.47,357.77 413.95,357.65 415.43,357.47 416.91,357.54 418.38,357.68 419.86,357.57 421.34,357.47 422.82,357.74 424.29,357.78 425.77,357.58 427.25,357.56 428.73,357.79 430.21,357.50 431.68,357.77 433.16,357.68 434.64,357.75 436.12,357.54 437.60,357.77 439.07,357.56 440.55,357.74 442.03,357.71 443.51,357.78 444.99,357.75 446.46,357.75 447.94,356.93 449.42,357.72 450.90,356.50 452.37,357.69 453.85,357.54 455.33,356.72 456.81,357.65 458.29,357.64 459.76,357.68 461.24,357.46 462.72,357.61 464.20,357.53 465.67,357.67 467.15,357.59 468.63,357.64 470.11,357.55 471.59,357.68 473.06,357.66 474.54,357.37 476.02,356.93 477.50,355.85 478.98,354.77 480.45,353.47 481.93,352.61 483.41,351.74 484.89,350.88 486.37,349.58 487.84,348.28 489.32,346.55 490.80,344.82 492.28,342.66 493.75,340.50 495.23,337.04 496.71,331.85 498.19,263.93" stroke="#D95319" stroke-width="1.5"/>
<polyline points="310.50,355.64 311.98,271.29 313.46,330.12 314.93,336.60 316.41,340.06 317.89,342.23 319.37,344.39 320.85,346.12 322.32,347.85 323.80,349.15 325.28,350.45 326.76,351.31 328.23,352.39 329.71,353.47 331.19,354.56 332.67,355.64 334.15,356.72 335.62,357.37 337.10,357.74 338.58,357.60 340.06,357.65 341.53,357.60 343.01,357.62 344.49,357.78 345.97,357.77 347.45,357.78 348.92,357.57 350.40,357.64 351.88,357.49 353.36,357.66 354.84,357.55 356.31,356.93 357.79,357.49 359.27,357.71 360.75,356.50 362.23,357.52 363.70,357.63 365.18,357.56 366.66,357.49 368.14,357.80 369.61,357.78 371.09,357.49 372.57,357.74 374.05,357.47 375.53,357.54 377.00,357.69 378.48,357.46 379.96,357.46 381.44,357.80 382.91,357.53 384.39,357.55 385.87,357.72 387.35,357.64 388.83,357.72 390.30,357.51 391.78,357.72 393.26,357.70 394.74,357.69 396.22,357.64 397.69,357.78 399.17,357.46 400.65,357.67 402.13,357.57 403.61,357.47 405.08,357.64 406.56,357.47 408.04,357.57 409.52,357.67 410.99,357.46 412.47,357.78 413.95,357.64 415.43,357.69 416.91,357.70 418.38,357.72 419.86,357.51 421.34,357.72 422.82,357.64 424.29,357.72 425.77,357.55 427.25,357.53 428.73,357.80 430.21,357.46 431.68,357.46 433.16,357.69 434.64,357.54 436.12,357.47 437.60,357.74 439.07,357.49 440.55,357.78 442.03,357.80 443.51,357.49 444.99,357.56 446.46,357.63 447.94,357.52 449.42,356.50 450.90,357.71 452.37,357.49 453.85,356.93 455.33,357.55 456.81,357.66 458.29,357.49 459.76,357.64 461.24,357.57 462.72,357.78 464.20,357.77 465.67,357.78 467.15,357.62 468.63,357.60 470.11,357.65 471.59,357.60 473.06,357.74 474.54,357.37 476.02,356.72 477.50,355.64 478.98,354.56 480.45,353.47 481.93,352.39 483.41,351.31 484.89,350.45 486.37,349.15 487.84,347.85 489.32,346.12 490.80,344.39 492.28,342.23 493.75,340.06 495.23,336.60 496.71,330.12 498.19,271.29" stroke="#EDB120" stroke-width="1.5"/>
<polyline points="310.50,357.37 311.98,336.60 313.46,334.01 314.93,333.14 316.41,337.04 317.89,339.20 319.37,336.17 320.85,339.63 322.32,343.96 323.80,343.53 325.28,344.82 326.76,346.99 328.23,347.85 329.71,348.28 331.19,350.88 332.67,352.61 334.15,354.34 335.62,355.20 337.10,356.50 338.58,357.37 340.06,356.50 341.53,357.37 343.01,357.15 344.49,357.37 345.97,357.37 347.45,357.15 348.92,356.93 350.40,357.15 351.88,356.50 353.36,356.93 354.84,355.85 356.31,355.29 357.79,356.29 359.27,356.50 360.75,355.42 362.23,355.20 363.70,356.29 365.18,356.50 366.66,357.15 368.14,357.77 369.61,357.41 371.09,357.47 372.57,357.64 374.05,357.50 375.53,357.55 377.00,357.48 378.48,357.39 379.96,357.67 381.44,357.58 382.91,357.72 384.39,357.75 385.87,357.64 387.35,357.41 388.83,357.67 390.30,357.66 391.78,357.38 393.26,357.45 394.74,357.63 396.22,357.79 397.69,357.59 399.17,357.71 400.65,357.50 402.13,357.44 403.61,357.60 405.08,357.60 406.56,357.60 408.04,357.44 409.52,357.50 410.99,357.71 412.47,357.59 413.95,357.79 415.43,357.63 416.91,357.45 418.38,357.38 419.86,357.66 421.34,357.67 422.82,357.41 424.29,357.64 425.77,357.75 427.25,357.72 428.73,357.58 430.21,357.67 431.68,357.39 433.16,357.48 434.64,357.55 436.12,357.50 437.60,357.64 439.07,357.47 440.55,357.41 442.03,357.77 443.51,357.15 444.99,356.50 446.46,356.29 447.94,355.20 449.42,355.42 450.90,356.50 452.37,356.29 453.85,355.29 455.33,355.85 456.81,356.93 458.29,356.50 459.76,357.15 461.24,356.93 462.72,357.15 464.20,357.37 465.67,357.37 467.15,357.15 468.63,357.37 470.11,356.50 471.59,357.37 473.06,356.50 474.54,355.20 476.02,354.34 477.50,352.61 478.98,350.88 480.45,348.28 481.93,347.85 483.41,346.99 484.89,344.82 486.37,343.53 487.84,343.96 489.32,339.63 490.80,336.17 492.28,339.20 493.75,337.04 495.23,333.14 496.71,334.01 498.19,336.60" stroke="#7E2F8E" stroke-width="1.7"/>
</g>
<rect x="310.5" y="206.4" width="206.90" height="151.40" fill="none" stroke="#8c8c8c" stroke-width="1.1"/>
<path d="M310.50,357.8v-2.0M310.50,206.4v2.0M340.06,357.8v-2.0M340.06,206.4v2.0M369.61,357.8v-2.0M369.61,206.4v2.0M399.17,357.8v-2.0M399.17,206.4v2.0M428.73,357.8v-2.0M428.73,206.4v2.0M458.29,357.8v-2.0M458.29,206.4v2.0M487.84,357.8v-2.0M487.84,206.4v2.0M517.40,357.8v-2.0M517.40,206.4v2.0M310.5,357.80h2.0M517.4,357.80h-2.0M310.5,336.17h2.0M517.4,336.17h-2.0M310.5,314.54h2.0M517.4,314.54h-2.0M310.5,292.91h2.0M517.4,292.91h-2.0M310.5,271.29h2.0M517.4,271.29h-2.0M310.5,249.66h2.0M517.4,249.66h-2.0M310.5,228.03h2.0M517.4,228.03h-2.0M310.5,206.40h2.0M517.4,206.40h-2.0" stroke="#8c8c8c" stroke-width="0.9" fill="none"/>
<text transform="translate(310.50,366.70)" font-size="6.3" text-anchor="middle" font-weight="normal" fill="#2a2a2a" stroke="#2a2a2a" stroke-width="0.25">0</text>
<text transform="translate(340.06,366.70)" font-size="6.3" text-anchor="middle" font-weight="normal" fill="#2a2a2a" stroke="#2a2a2a" stroke-width="0.25">20</text>
<text transform="translate(369.61,366.70)" font-size="6.3" text-anchor="middle" font-weight="normal" fill="#2a2a2a" stroke="#2a2a2a" stroke-width="0.25">40</text>
<text transform="translate(399.17,366.70)" font-size="6.3" text-anchor="middle" font-weight="normal" fill="#2a2a2a" stroke="#2a2a2a" stroke-width="0.25">60</text>
<text transform="translate(428.73,366.70)" font-size="6.3" text-anchor="middle" font-weight="normal" fill="#2a2a2a" stroke="#2a2a2a" stroke-width="0.25">80</text>
<text transform="translate(458.29,366.70)" font-size="6.3" text-anchor="middle" font-weight="normal" fill="#2a2a2a" stroke="#2a2a2a" stroke-width="0.25">100</text>
<text transform="translate(487.84,366.70)" font-size="6.3" text-anchor="middle" font-weight="normal" fill="#2a2a2a" stroke="#2a2a2a" stroke-width="0.25">120</text>
<text transform="translate(517.40,366.70)" font-size="6.3" text-anchor="middle" font-weight="normal" fill="#2a2a2a" stroke="#2a2a2a" stroke-width="0.25">140</text>
<text transform="translate(308.70,360.40)" font-size="6.3" text-anchor="end" font-weight="normal" fill="#2a2a2a" stroke="#2a2a2a" stroke-width="0.25">0</text>
<text transform="translate(308.70,338.77)" font-size="6.3" text-anchor="end" font-weight="normal" fill="#2a2a2a" stroke="#2a2a2a" stroke-width="0.25">5</text>
<text transform="translate(308.70,317.14)" font-size="6.3" text-anchor="end" font-weight="normal" fill="#2a2a2a" stroke="#2a2a2a" stroke-width="0.25">10</text>
<text transform="translate(308.70,295.51)" font-size="6.3" text-anchor="end" font-weight="normal" fill="#2a2a2a" stroke="#2a2a2a" stroke-width="0.25">15</text>
<text transform="translate(308.70,273.89)" font-size="6.3" text-anchor="end" font-weight="normal" fill="#2a2a2a" stroke="#2a2a2a" stroke-width="0.25">20</text>
<text transform="translate(308.70,252.26)" font-size="6.3" text-anchor="end" font-weight="normal" fill="#2a2a2a" stroke="#2a2a2a" stroke-width="0.25">25</text>
<text transform="translate(308.70,230.63)" font-size="6.3" text-anchor="end" font-weight="normal" fill="#2a2a2a" stroke="#2a2a2a" stroke-width="0.25">30</text>
<text transform="translate(308.70,209.00)" font-size="6.3" text-anchor="end" font-weight="normal" fill="#2a2a2a" stroke="#2a2a2a" stroke-width="0.25">35</text>
<text transform="translate(149.20,189.60) scale(1,0.94)" font-size="6.85" text-anchor="middle" font-weight="normal" fill="#1e1e1e" stroke="#1e1e1e" stroke-width="0.25">Feature number</text>
<text transform="translate(31.20,93.70) rotate(-90) scale(0.965,1)" font-size="6.85" text-anchor="middle" font-weight="normal" fill="#1e1e1e" stroke="#1e1e1e" stroke-width="0.25">Feature value</text>
<text transform="translate(417.00,189.60) scale(1,0.94)" font-size="6.85" text-anchor="middle" font-weight="normal" fill="#1e1e1e" stroke="#1e1e1e" stroke-width="0.25">Feature number</text>
<text transform="translate(299.00,94.00) rotate(-90) scale(0.965,1)" font-size="6.85" text-anchor="middle" font-weight="normal" fill="#1e1e1e" stroke="#1e1e1e" stroke-width="0.25">Feature value</text>
<text transform="translate(147.60,375.00) scale(1,0.94)" font-size="6.85" text-anchor="middle" font-weight="normal" fill="#1e1e1e" stroke="#1e1e1e" stroke-width="0.25">Frequency</text>
<text transform="translate(30.00,281.50) rotate(-90) scale(0.965,1)" font-size="6.85" text-anchor="middle" font-weight="normal" fill="#1e1e1e" stroke="#1e1e1e" stroke-width="0.25">Power</text>
<text transform="translate(415.50,375.00) scale(1,0.94)" font-size="6.85" text-anchor="middle" font-weight="normal" fill="#1e1e1e" stroke="#1e1e1e" stroke-width="0.25">Frequency</text>
<text transform="translate(297.50,281.30) rotate(-90) scale(0.965,1)" font-size="6.85" text-anchor="middle" font-weight="normal" fill="#1e1e1e" stroke="#1e1e1e" stroke-width="0.25">Power</text>
<text transform="translate(84.80,17.60) scale(1,0.94)" font-size="6.95" text-anchor="start" font-weight="bold" fill="#000">DNN input classwise best performing</text>
<text transform="translate(350.40,17.60) scale(1,0.94)" font-size="6.95" text-anchor="start" font-weight="bold" fill="#000">DNN input classwise worst performing</text>
<text transform="translate(52.20,202.90) scale(1,0.94)" font-size="6.95" text-anchor="start" font-weight="bold" fill="#000">Power spectrum of DNN input classwise best performing</text>
<text transform="translate(319.40,202.90) scale(1,0.94)" font-size="6.95" text-anchor="start" font-weight="bold" fill="#000">Power spectrum of DNN input classwise best performing</text>
<rect x="188.3" y="137.2" width="53.80" height="31.30" fill="#fff" stroke="#8c8c8c" stroke-width="1"/>
<line x1="190.2" y1="142.3" x2="209.3" y2="142.3" stroke="#0a76c4" stroke-width="1.55"/>
<text transform="translate(210.90,144.40) scale(1,0.94)" font-size="5.82" text-anchor="start" font-weight="normal" fill="#1a1a1a" stroke="#1a1a1a" stroke-width="0.1">Best HVHA</text>
<line x1="190.2" y1="149.4" x2="209.3" y2="149.4" stroke="#D95319" stroke-width="1.55"/>
<text transform="translate(210.90,151.50) scale(1,0.94)" font-size="5.82" text-anchor="start" font-weight="normal" fill="#1a1a1a" stroke="#1a1a1a" stroke-width="0.1">Best HVLA</text>
<line x1="190.2" y1="156.8" x2="209.3" y2="156.8" stroke="#EDB120" stroke-width="1.55"/>
<text transform="translate(210.90,158.90) scale(1,0.94)" font-size="5.82" text-anchor="start" font-weight="normal" fill="#1a1a1a" stroke="#1a1a1a" stroke-width="0.1">Best LVHA</text>
<line x1="190.2" y1="164.3" x2="209.3" y2="164.3" stroke="#7E2F8E" stroke-width="1.55"/>
<text transform="translate(210.90,166.40) scale(1,0.94)" font-size="5.82" text-anchor="start" font-weight="normal" fill="#1a1a1a" stroke="#1a1a1a" stroke-width="0.1">Best LVLA</text>
<rect x="454.3" y="24.1" width="57.50" height="30.70" fill="#fff" stroke="#8c8c8c" stroke-width="1"/>
<line x1="456.2" y1="28.6" x2="474.7" y2="28.6" stroke="#0a76c4" stroke-width="1.55"/>
<text transform="translate(476.60,30.70) scale(1,0.94)" font-size="5.82" text-anchor="start" font-weight="normal" fill="#1a1a1a" stroke="#1a1a1a" stroke-width="0.1">Worst HVHA</text>
<line x1="456.2" y1="36.0" x2="474.7" y2="36.0" stroke="#D95319" stroke-width="1.55"/>
<text transform="translate(476.60,38.10) scale(1,0.94)" font-size="5.82" text-anchor="start" font-weight="normal" fill="#1a1a1a" stroke="#1a1a1a" stroke-width="0.1">Worst HVLA</text>
<line x1="456.2" y1="43.2" x2="474.7" y2="43.2" stroke="#EDB120" stroke-width="1.55"/>
<text transform="translate(476.60,45.30) scale(1,0.94)" font-size="5.82" text-anchor="start" font-weight="normal" fill="#1a1a1a" stroke="#1a1a1a" stroke-width="0.1">Worst LVHA</text>
<line x1="456.2" y1="50.5" x2="474.7" y2="50.5" stroke="#7E2F8E" stroke-width="1.55"/>
<text transform="translate(476.60,52.60) scale(1,0.94)" font-size="5.82" text-anchor="start" font-weight="normal" fill="#1a1a1a" stroke="#1a1a1a" stroke-width="0.1">Worst LVLA</text>
<rect x="119.5" y="210.2" width="53.90" height="30.50" fill="#fff" stroke="#8c8c8c" stroke-width="1"/>
<line x1="121.9" y1="214.5" x2="140.3" y2="214.5" stroke="#0a76c4" stroke-width="1.55"/>
<text transform="translate(142.30,216.60) scale(1,0.94)" font-size="5.82" text-anchor="start" font-weight="normal" fill="#1a1a1a" stroke="#1a1a1a" stroke-width="0.1">Best HVHA</text>
<line x1="121.9" y1="221.8" x2="140.3" y2="221.8" stroke="#D95319" stroke-width="1.55"/>
<text transform="translate(142.30,223.90) scale(1,0.94)" font-size="5.82" text-anchor="start" font-weight="normal" fill="#1a1a1a" stroke="#1a1a1a" stroke-width="0.1">Best HVLA</text>
<line x1="121.9" y1="229.1" x2="140.3" y2="229.1" stroke="#EDB120" stroke-width="1.55"/>
<text transform="translate(142.30,231.20) scale(1,0.94)" font-size="5.82" text-anchor="start" font-weight="normal" fill="#1a1a1a" stroke="#1a1a1a" stroke-width="0.1">Best LVHA</text>
<line x1="121.9" y1="236.4" x2="140.3" y2="236.4" stroke="#7E2F8E" stroke-width="1.55"/>
<text transform="translate(142.30,238.50) scale(1,0.94)" font-size="5.82" text-anchor="start" font-weight="normal" fill="#1a1a1a" stroke="#1a1a1a" stroke-width="0.1">Best LVLA</text>
<rect x="454.1" y="285.7" width="58.00" height="30.90" fill="#fff" stroke="#8c8c8c" stroke-width="1"/>
<line x1="456.1" y1="290.0" x2="475.2" y2="290.0" stroke="#0a76c4" stroke-width="1.55"/>
<text transform="translate(476.90,292.10) scale(1,0.94)" font-size="5.82" text-anchor="start" font-weight="normal" fill="#1a1a1a" stroke="#1a1a1a" stroke-width="0.1">Worst HVHA</text>
<line x1="456.1" y1="297.3" x2="475.2" y2="297.3" stroke="#D95319" stroke-width="1.55"/>
<text transform="translate(476.90,299.40) scale(1,0.94)" font-size="5.82" text-anchor="start" font-weight="normal" fill="#1a1a1a" stroke="#1a1a1a" stroke-width="0.1">Worst HVLA</text>
<line x1="456.1" y1="304.6" x2="475.2" y2="304.6" stroke="#EDB120" stroke-width="1.55"/>
<text transform="translate(476.90,306.70) scale(1,0.94)" font-size="5.82" text-anchor="start" font-weight="normal" fill="#1a1a1a" stroke="#1a1a1a" stroke-width="0.1">Worst LVHA</text>
<line x1="456.1" y1="312.1" x2="475.2" y2="312.1" stroke="#7E2F8E" stroke-width="1.55"/>
<text transform="translate(476.90,314.20) scale(1,0.94)" font-size="5.82" text-anchor="start" font-weight="normal" fill="#1a1a1a" stroke="#1a1a1a" stroke-width="0.1">Worst LVLA</text>
<text x="13.8" y="185.0" font-size="10.4" fill="#1a1a1a" stroke="#1a1a1a" stroke-width="0.15">(a)</text>
<text x="281.3" y="185.0" font-size="10.4" fill="#1a1a1a" stroke="#1a1a1a" stroke-width="0.15">(b)</text>
<text x="13.8" y="371.0" font-size="10.4" fill="#1a1a1a" stroke="#1a1a1a" stroke-width="0.15">(c)</text>
<text x="281.3" y="370.8" font-size="10.4" fill="#1a1a1a" stroke="#1a1a1a" stroke-width="0.15">(d)</text>
<path d="M8,6.2H543V378H8Z M275.3,6.2V378 M8,192.2H543" fill="none" stroke="#000" stroke-width="2"/>
</svg></body></html>
